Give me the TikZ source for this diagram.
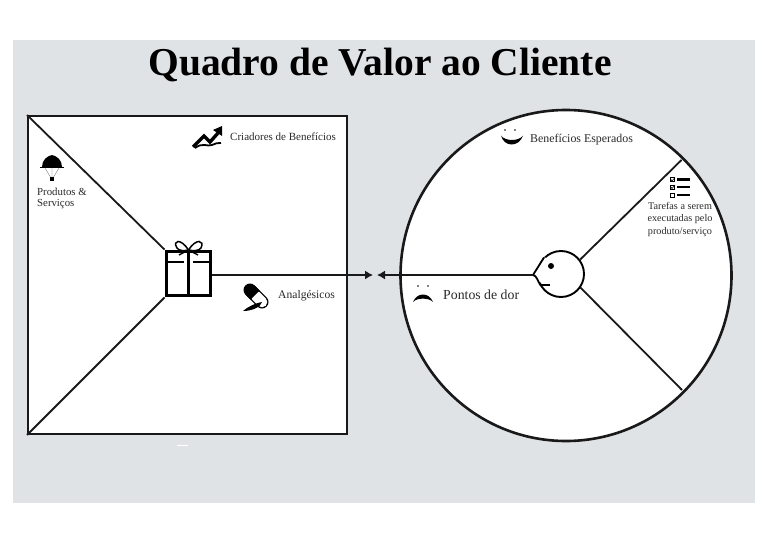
\documentclass[tikz,border=0pt]{standalone}
\usepackage{fontspec}
\usepackage{tikz}
\usetikzlibrary{arrows.meta}
\setmainfont{Liberation Serif}
\definecolor{paneback}{HTML}{E0E3E6}
\definecolor{labelink}{HTML}{2A2A2A}
\tikzset{
  panel/.style={draw=black!90,fill=white,line width=1.8pt,inner sep=0pt},
  spoke/.style={draw=black!90,line width=1.8pt},
  flow/.style={draw=black!90,line width=1.3pt,-{Latex[length=8pt,width=9pt]}},
  lab/.style={text=labelink,inner sep=0pt,align=center,font=\fontsize{11}{12.5}\selectfont},
  smalllab/.style={lab,font=\fontsize{10.2}{12.5}\selectfont}
}
\begin{document}
\begin{tikzpicture}[x=1pt,y=-1pt]
\useasboundingbox (0,0) rectangle (768,543);
\fill [paneback] (13,40) rectangle (755,503);
\node (title) [inner sep=0pt,anchor=base,font=\fontsize{39.5}{42}\selectfont\bfseries] at (380,75) {Quadro de Valor ao Cliente};

% left square
\node (offer) [panel,minimum width=319pt,minimum height=318pt] at (187.5,275) {};
\node (gift) [draw=black,fill=white,line width=3.4pt,minimum size=44.5pt,inner sep=0pt] at (188.5,273.5) {};
\draw [spoke] (offer.north west) -- (gift.north west);
\draw [spoke] (offer.south west) -- (gift.south west);
% gift details
\draw [line width=2.6pt] (gift.north) -- (gift.south);
\draw [line width=2.2pt] (gift.west |- 0,262) -- (184,262);
\draw [line width=2.2pt] (193,262) -- (gift.east |- 0,262);
\draw [line width=1.5pt] (188.5,250) .. controls (181,238) and (172,240) .. (177,248) .. controls (179,251) and (184,251) .. (188.5,250);
\draw [line width=1.5pt] (188.5,250) .. controls (196,238) and (205,240) .. (201,248) .. controls (199,251) and (193,251) .. (188.5,250);
\draw [line width=1.4pt] (188.5,250) -- (179,255);
\draw [line width=1.4pt] (188.5,250) -- (198,255);

% right circle
\node (value) [panel,line width=2.6pt,circle,minimum size=331pt] at (566,275.5) {};
\coordinate (rimtop) at (681.5,160);
\coordinate (rimlow) at (682,390);
\node (head) [circle,draw=black,fill=white,line width=1.9pt,minimum size=46pt,inner sep=0pt] at (561,274) {};
\draw [spoke] (head.37) -- (rimtop);
\draw [spoke] (head.-35) -- (rimlow);
% nose and face
\coordinate (nose) at (533,275);
\fill [white] (545,257) -- (nose) -- (539,284) -- (552,270) -- cycle;
\draw [line width=1.8pt] (544,257.5) -- (nose) .. controls (537,276) and (537,280) .. (541,286);
\fill (551,266) circle [radius=3];
\draw [line width=1.4pt] (540,285) -- (550,285);

% arrows
\coordinate (tipleft) at (373,275);
\coordinate (tipright) at (377,275);
\draw [flow] (gift.east |- 0,275) -- (tipleft);
\draw [flow] (nose) -- (tipright);

% labels
\node (creators) [lab,anchor=west] at (230,136.5) {Criadores de Benefícios};
\node (products) [smalllab,anchor=north west,align=left,font=\fontsize{10.8}{11.5}\selectfont] at (37,187.5) {Produtos \&\\Serviços};
\node (relievers) [lab,anchor=west,font=\fontsize{11.6}{13}\selectfont] at (278,295.5) {Analgésicos};
\node (gains) [lab,anchor=west,font=\fontsize{11.9}{13}\selectfont] at (530,139.5) {Benefícios Esperados};
\node (jobs) [smalllab,anchor=north] at (680,202) {Tarefas a serem\\executadas pelo\\produto/serviço};
\node (pains) [lab,anchor=west,font=\fontsize{13.8}{15}\selectfont] at (443,294.5) {Pontos de dor};

% trend icon
\draw [line width=3.4pt,line join=miter] (193,147) -- (204,136) -- (210,142) -- (218,133);
\fill (213,130) -- (222,126) -- (222,136) -- cycle;
\draw [line width=1.8pt] (195,148) .. controls (203,142) and (207,147) .. (212,145) .. controls (215,143) and (218,143) .. (221,143);
% cloche icon
\fill (42,167) .. controls (42,160) and (47,156) .. (52,155) .. controls (57,156) and (62,160) .. (62,167) -- cycle;
\draw [line width=1pt] (40,167.5) -- (64,167.5);
\draw [line width=.3pt,black!60] (45,168) -- (51,178) (59,168) -- (53,178) (52,168) -- (52,178);
\fill (50,177) rectangle (54,181);
% pill icon
\draw [line width=13pt,line cap=round] (250,290) -- (262,302);
\draw [white,line width=10.6pt,line cap=round] (256,296) -- (262,302);
\draw [line width=13pt] (250,290) -- (255,295);
\fill (243,311) .. controls (249,306) and (256,303) .. (262,302) .. controls (261,307) and (252,311) .. (243,311) -- cycle;
% checklist icon
\foreach \rowy in {179.5,187,195}{
  \draw [line width=.5pt] (670.5,\rowy-1.8) rectangle (674,\rowy+1.8);
  \draw [line width=2.8pt] (677,\rowy) -- (690,\rowy);
}
\draw [line width=.6pt] (671,179.5) -- (672,181) -- (675,177.5);
\draw [line width=.6pt] (671,187) -- (672,188.5) -- (675,185);
% smile icon
\fill (501,135.5) .. controls (504,147.5) and (519,147.5) .. (523,135.5) .. controls (519,141.5) and (505,141.5) .. (501,135.5) -- cycle;
\fill (505,130) circle [radius=.9];
\fill (515,130) circle [radius=.9];
% frown icon
\fill (413,302) .. controls (417,292) and (429,292) .. (433,302) .. controls (429,297.5) and (417,297.5) .. (413,302) -- cycle;
\fill (418,286) circle [radius=.8];
\fill (428,286) circle [radius=.8];

\draw [white,line width=.8pt] (177,445) -- (188,445);
\end{tikzpicture}
\end{document}
